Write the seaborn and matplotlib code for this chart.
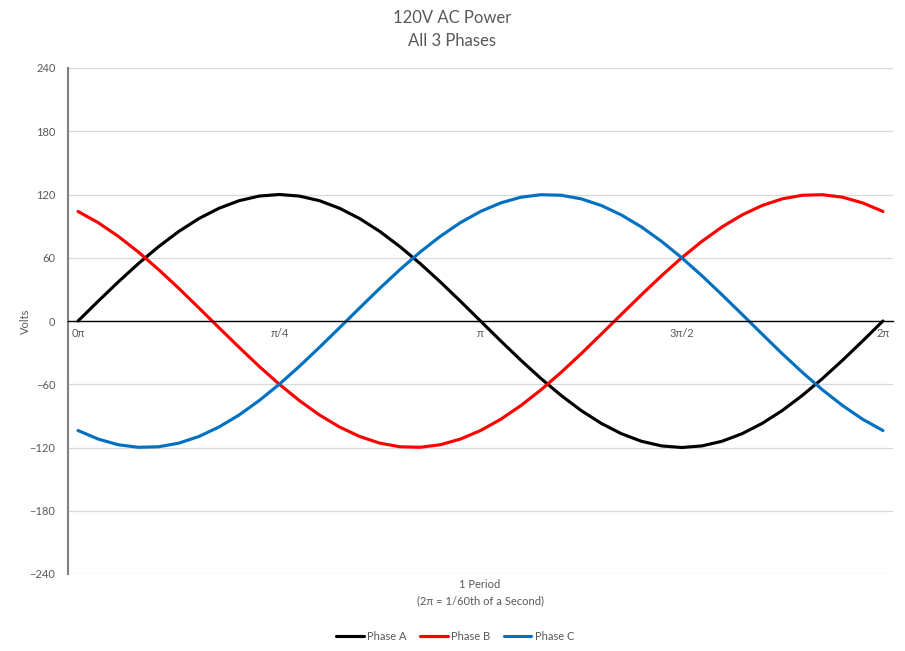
import numpy as np
import pandas as pd
import seaborn as sns
import matplotlib.pyplot as plt

# ---- data (41 samples over one period) ----
steps = list(range(41))
phase_a = [0, 18.8, 37.1, 54.5, 70.5, 84.9, 97.1, 106.9, 114.1, 118.5, 120,
           118.5, 114.1, 106.9, 97.1, 84.9, 70.5, 54.5, 37.1, 18.8, 0,
           -18.8, -37.1, -54.5, -70.5, -84.9, -97.1, -106.9, -114.1, -118.5, -120,
           -118.5, -114.1, -106.9, -97.1, -84.9, -70.5, -54.5, -37.1, -18.8, 0]
phase_b = [103.9, 93.3, 80.3, 65.4, 48.8, 31.1, 12.5, -6.3, -24.9, -43.0, -60,
           -75.5, -89.2, -100.6, -109.6, -115.9, -119.3, -119.8, -117.4, -112.0, -103.9,
           -93.3, -80.3, -65.4, -48.8, -31.1, -12.5, 6.3, 24.9, 43.0, 60,
           75.5, 89.2, 100.6, 109.6, 115.9, 119.3, 119.8, 117.4, 112.0, 103.9]
phase_c = [-103.9, -112.0, -117.4, -119.8, -119.3, -115.9, -109.6, -100.6, -89.2, -75.5, -60,
           -43.0, -24.9, -6.3, 12.5, 31.1, 48.8, 65.4, 80.3, 93.3, 103.9,
           112.0, 117.4, 119.8, 119.3, 115.9, 109.6, 100.6, 89.2, 75.5, 60,
           43.0, 24.9, 6.3, -12.5, -31.1, -48.8, -65.4, -80.3, -93.3, -103.9]
series_names = ["Phase A", "Phase B", "Phase C"]
x_tick_pos = [0, 10, 20, 30, 40]
x_tick_labels = ["0\u03c0", "\u03c0/4", "\u03c0", "3\u03c0/2", "2\u03c0"]
y_ticks = [-240, -180, -120, -60, 0, 60, 120, 180, 240]

df = pd.DataFrame({
    "step": steps * 3,
    "volts": phase_a + phase_b + phase_c,
    "phase": [series_names[0]] * 41 + [series_names[1]] * 41 + [series_names[2]] * 41,
})

sns.set_theme(style="white")
plt.rcParams["font.family"] = ["Lato", "DejaVu Sans"]
txt = "#595959"

fig = plt.figure(figsize=(9.05, 6.51), dpi=100)
ax = fig.add_axes([68 / 905, 1 - 574 / 651, (893 - 68) / 905, (574 - 68) / 651])

palette = {"Phase A": "#000000", "Phase B": "#FF0000", "Phase C": "#0070C0"}
sns.lineplot(data=df, x="step", y="volts", hue="phase", palette=palette,
             linewidth=2.25, ax=ax, legend=True)

ax.set_xlim(-0.5, 40.5)
ax.set_ylim(-240, 240)
ax.set_yticks(y_ticks)
ax.set_xticks(x_tick_pos)
ax.set_xticklabels(x_tick_labels)
ax.set_xlabel("")
ax.set_ylabel("")

ax.yaxis.grid(True, color="#D9D9D9", linewidth=0.9)
ax.set_axisbelow(True)

for s in ["top", "right"]:
    ax.spines[s].set_visible(False)
ax.spines["bottom"].set_position(("data", 0))
ax.spines["bottom"].set_color("black")
ax.spines["bottom"].set_linewidth(1.0)
ax.spines["left"].set_color("#808080")
ax.spines["left"].set_linewidth(1.5)

ax.tick_params(axis="x", length=0, pad=5, labelsize=8, labelcolor=txt)
ax.tick_params(axis="y", length=0, pad=9, labelsize=8, labelcolor=txt)

handles, labels = ax.get_legend_handles_labels()
ax.get_legend().remove()
fig.legend(handles, labels, loc="center", bbox_to_anchor=(455 / 905, 1 - 636 / 651),
           ncol=3, frameon=False, fontsize=8, labelcolor=txt,
           handlelength=2.5, handletextpad=0.3, columnspacing=1.2)

fig.text(452 / 905, 1 - 18 / 651, "120V AC Power", ha="center", va="center",
         fontsize=12, color=txt)
fig.text(452 / 905, 1 - 41 / 651, "All 3 Phases", ha="center", va="center",
         fontsize=12, color=txt)
fig.text(25 / 905, 1 - 321 / 651, "Volts", rotation=90, ha="center", va="center",
         fontsize=8, color=txt)
fig.text(480 / 905, 1 - 584 / 651, "1 Period", ha="center", va="center",
         fontsize=8, color=txt)
fig.text(480 / 905, 1 - 601 / 651, "(2\u03c0 = 1/60th of a Second)", ha="center", va="center",
         fontsize=8, color=txt)

fig.savefig("out.png", dpi=100)
